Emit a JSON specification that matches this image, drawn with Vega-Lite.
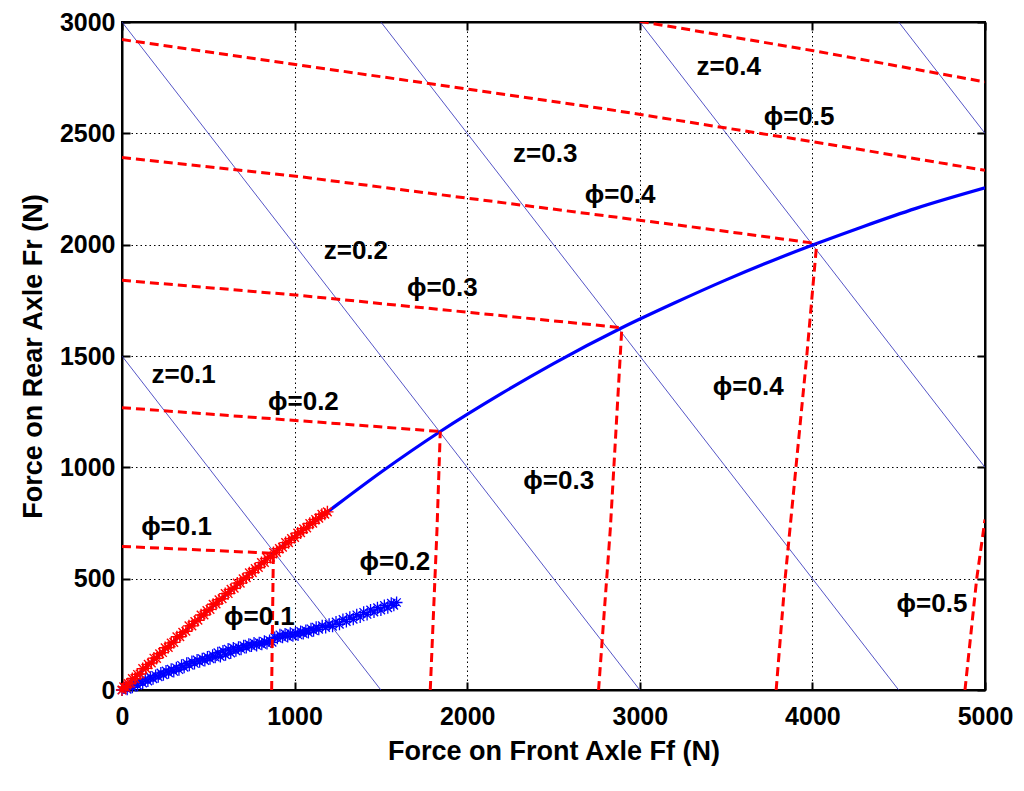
{
  "$schema": "https://vega.github.io/schema/vega-lite/v6.json",
  "autosize": {"type": "none"},
  "padding": {"left": 122, "top": 22, "right": 39, "bottom": 101},
  "width": 863,
  "height": 668,
  "background": "white",
  "datasets": {
    "lines": [
      {"s": "z1", "k": "z", "x": 0, "y": 1500}, {"s": "z1", "k": "z", "x": 1500, "y": 0},
      {"s": "z2", "k": "z", "x": 0, "y": 3000}, {"s": "z2", "k": "z", "x": 3000, "y": 0},
      {"s": "z3", "k": "z", "x": 1500, "y": 3000}, {"s": "z3", "k": "z", "x": 4500, "y": 0},
      {"s": "z4", "k": "z", "x": 3000, "y": 3000}, {"s": "z4", "k": "z", "x": 5000, "y": 1000},
      {"s": "z5", "k": "z", "x": 4500, "y": 3000}, {"s": "z5", "k": "z", "x": 5000, "y": 2500},
      {"s": "I", "k": "I", "x": 0, "y": 0}, {"s": "I", "k": "I", "x": 300, "y": 218},
      {"s": "I", "k": "I", "x": 600, "y": 425}, {"s": "I", "k": "I", "x": 877, "y": 614},
      {"s": "I", "k": "I", "x": 1200, "y": 805}, {"s": "I", "k": "I", "x": 1500, "y": 978},
      {"s": "I", "k": "I", "x": 1844, "y": 1161}, {"s": "I", "k": "I", "x": 2200, "y": 1332},
      {"s": "I", "k": "I", "x": 2500, "y": 1466}, {"s": "I", "k": "I", "x": 2896, "y": 1627},
      {"s": "I", "k": "I", "x": 3200, "y": 1738}, {"s": "I", "k": "I", "x": 3500, "y": 1842},
      {"s": "I", "k": "I", "x": 3800, "y": 1938}, {"s": "I", "k": "I", "x": 4025, "y": 2005},
      {"s": "I", "k": "I", "x": 4300, "y": 2083}, {"s": "I", "k": "I", "x": 4600, "y": 2163},
      {"s": "I", "k": "I", "x": 5000, "y": 2255},
      {"s": "r1", "k": "d", "x": 0, "y": 645}, {"s": "r1", "k": "d", "x": 877, "y": 614},
      {"s": "r2", "k": "d", "x": 0, "y": 1268}, {"s": "r2", "k": "d", "x": 1033, "y": 1209}, {"s": "r2", "k": "d", "x": 1844, "y": 1161},
      {"s": "r3", "k": "d", "x": 0, "y": 1840}, {"s": "r3", "k": "d", "x": 1033, "y": 1772}, {"s": "r3", "k": "d", "x": 2896, "y": 1627},
      {"s": "r4", "k": "d", "x": 0, "y": 2391}, {"s": "r4", "k": "d", "x": 1033, "y": 2305}, {"s": "r4", "k": "d", "x": 3350, "y": 2075}, {"s": "r4", "k": "d", "x": 4025, "y": 2005},
      {"s": "r5", "k": "d", "x": 0, "y": 2921}, {"s": "r5", "k": "d", "x": 2771, "y": 2613}, {"s": "r5", "k": "d", "x": 4006, "y": 2462}, {"s": "r5", "k": "d", "x": 5000, "y": 2334},
      {"s": "r6", "k": "d", "x": 3000, "y": 3003}, {"s": "r6", "k": "d", "x": 4006, "y": 2871}, {"s": "r6", "k": "d", "x": 5000, "y": 2731},
      {"s": "f1", "k": "d", "x": 867, "y": 0}, {"s": "f1", "k": "d", "x": 877, "y": 614},
      {"s": "f2", "k": "d", "x": 1786, "y": 0}, {"s": "f2", "k": "d", "x": 1825, "y": 721}, {"s": "f2", "k": "d", "x": 1844, "y": 1161},
      {"s": "f3", "k": "d", "x": 2761, "y": 0}, {"s": "f3", "k": "d", "x": 2829, "y": 721}, {"s": "f3", "k": "d", "x": 2896, "y": 1627},
      {"s": "f4", "k": "d", "x": 3790, "y": 0}, {"s": "f4", "k": "d", "x": 3842, "y": 500}, {"s": "f4", "k": "d", "x": 3967, "y": 1497}, {"s": "f4", "k": "d", "x": 4025, "y": 2005},
      {"s": "f5", "k": "d", "x": 4884, "y": 0}, {"s": "f5", "k": "d", "x": 4952, "y": 500}, {"s": "f5", "k": "d", "x": 5000, "y": 766}
    ],
    "blue": [
      {"x": 0, "y": 0}, {"x": 15, "y": 10}, {"x": 30, "y": 3}, {"x": 45, "y": 20}, {"x": 60, "y": 12},
      {"x": 75, "y": 29}, {"x": 90, "y": 21}, {"x": 105, "y": 39}, {"x": 120, "y": 31}, {"x": 135, "y": 48},
      {"x": 150, "y": 40}, {"x": 165, "y": 58}, {"x": 180, "y": 50}, {"x": 195, "y": 66}, {"x": 210, "y": 59},
      {"x": 225, "y": 77}, {"x": 240, "y": 68}, {"x": 255, "y": 86}, {"x": 270, "y": 77}, {"x": 285, "y": 94},
      {"x": 300, "y": 83}, {"x": 315, "y": 100}, {"x": 330, "y": 91}, {"x": 345, "y": 111}, {"x": 360, "y": 102},
      {"x": 375, "y": 120}, {"x": 390, "y": 111}, {"x": 405, "y": 128}, {"x": 420, "y": 119}, {"x": 435, "y": 135},
      {"x": 450, "y": 126}, {"x": 465, "y": 141}, {"x": 480, "y": 132}, {"x": 495, "y": 149}, {"x": 510, "y": 140},
      {"x": 525, "y": 157}, {"x": 540, "y": 147}, {"x": 555, "y": 168}, {"x": 570, "y": 150}, {"x": 585, "y": 176},
      {"x": 600, "y": 158}, {"x": 615, "y": 184}, {"x": 630, "y": 166}, {"x": 645, "y": 189}, {"x": 660, "y": 176},
      {"x": 675, "y": 192}, {"x": 690, "y": 183}, {"x": 705, "y": 199}, {"x": 720, "y": 190}, {"x": 735, "y": 206},
      {"x": 750, "y": 197}, {"x": 765, "y": 211}, {"x": 780, "y": 200}, {"x": 795, "y": 213}, {"x": 810, "y": 205},
      {"x": 825, "y": 219}, {"x": 840, "y": 209}, {"x": 855, "y": 223}, {"x": 870, "y": 214}, {"x": 885, "y": 236},
      {"x": 900, "y": 232}, {"x": 915, "y": 248}, {"x": 930, "y": 236}, {"x": 945, "y": 252}, {"x": 960, "y": 240},
      {"x": 975, "y": 255}, {"x": 990, "y": 243}, {"x": 1005, "y": 258}, {"x": 1020, "y": 247}, {"x": 1035, "y": 263},
      {"x": 1050, "y": 253}, {"x": 1065, "y": 268}, {"x": 1080, "y": 258}, {"x": 1095, "y": 275}, {"x": 1110, "y": 266},
      {"x": 1125, "y": 282}, {"x": 1140, "y": 272}, {"x": 1160, "y": 289}, {"x": 1180, "y": 280}, {"x": 1200, "y": 296},
      {"x": 1220, "y": 286}, {"x": 1240, "y": 306}, {"x": 1260, "y": 295}, {"x": 1280, "y": 317}, {"x": 1300, "y": 307},
      {"x": 1320, "y": 327}, {"x": 1340, "y": 317}, {"x": 1360, "y": 338}, {"x": 1380, "y": 328}, {"x": 1400, "y": 349},
      {"x": 1420, "y": 339}, {"x": 1440, "y": 360}, {"x": 1460, "y": 350}, {"x": 1480, "y": 370}, {"x": 1500, "y": 359},
      {"x": 1520, "y": 380}, {"x": 1540, "y": 369}, {"x": 1560, "y": 390}, {"x": 1575, "y": 380}, {"x": 1591, "y": 393}
    ],
    "red": [
      {"x": 0, "y": 0}, {"x": 10, "y": 14}, {"x": 22, "y": 11}, {"x": 35, "y": 29}, {"x": 48, "y": 30},
      {"x": 60, "y": 51}, {"x": 75, "y": 51}, {"x": 90, "y": 70}, {"x": 105, "y": 72}, {"x": 120, "y": 96},
      {"x": 138, "y": 97}, {"x": 152, "y": 115}, {"x": 170, "y": 121}, {"x": 185, "y": 143}, {"x": 200, "y": 142},
      {"x": 218, "y": 163}, {"x": 235, "y": 168}, {"x": 250, "y": 190}, {"x": 268, "y": 191}, {"x": 285, "y": 211},
      {"x": 300, "y": 214}, {"x": 318, "y": 239}, {"x": 335, "y": 239}, {"x": 352, "y": 259}, {"x": 370, "y": 264},
      {"x": 388, "y": 288}, {"x": 405, "y": 288}, {"x": 422, "y": 308}, {"x": 440, "y": 313}, {"x": 458, "y": 337},
      {"x": 475, "y": 337}, {"x": 492, "y": 357}, {"x": 510, "y": 362}, {"x": 528, "y": 385}, {"x": 545, "y": 386},
      {"x": 562, "y": 405}, {"x": 580, "y": 410}, {"x": 598, "y": 433}, {"x": 615, "y": 433}, {"x": 632, "y": 452},
      {"x": 650, "y": 457}, {"x": 668, "y": 480}, {"x": 685, "y": 480}, {"x": 702, "y": 499}, {"x": 720, "y": 504},
      {"x": 738, "y": 526}, {"x": 755, "y": 527}, {"x": 772, "y": 545}, {"x": 790, "y": 550}, {"x": 808, "y": 572},
      {"x": 825, "y": 573}, {"x": 842, "y": 591}, {"x": 860, "y": 596}, {"x": 878, "y": 617}, {"x": 895, "y": 618},
      {"x": 912, "y": 635}, {"x": 930, "y": 641}, {"x": 948, "y": 662}, {"x": 965, "y": 662}, {"x": 982, "y": 680},
      {"x": 1000, "y": 685}, {"x": 1018, "y": 705}, {"x": 1035, "y": 706}, {"x": 1052, "y": 724}, {"x": 1070, "y": 728},
      {"x": 1088, "y": 748}, {"x": 1105, "y": 749}, {"x": 1122, "y": 766}, {"x": 1140, "y": 771}, {"x": 1158, "y": 789},
      {"x": 1175, "y": 790}, {"x": 1190, "y": 800}
    ],
    "labels": [
      {"x": 357, "y": 1414, "t": "z=0.1"},
      {"x": 1355, "y": 1971, "t": "z=0.2"},
      {"x": 2452, "y": 2408, "t": "z=0.3"},
      {"x": 3515, "y": 2797, "t": "z=0.4"},
      {"x": 316, "y": 730, "t": "ϕ=0.1"},
      {"x": 1051, "y": 1293, "t": "ϕ=0.2"},
      {"x": 1856, "y": 1806, "t": "ϕ=0.3"},
      {"x": 2886, "y": 2221, "t": "ϕ=0.4"},
      {"x": 3923, "y": 2572, "t": "ϕ=0.5"},
      {"x": 796, "y": 329, "t": "ϕ=0.1"},
      {"x": 1581, "y": 577, "t": "ϕ=0.2"},
      {"x": 2530, "y": 937, "t": "ϕ=0.3"},
      {"x": 3628, "y": 1360, "t": "ϕ=0.4"},
      {"x": 4693, "y": 387, "t": "ϕ=0.5"}
    ]
  },
  "resolve": {"axis": {"x": "independent", "y": "independent"}},
  "layer": [
    {
      "data": {"name": "lines"},
      "transform": [{"filter": "datum.k == 'z'"}],
      "mark": {"type": "line", "color": "#2a2ab8", "strokeWidth": 0.8, "clip": true},
      "encoding": {
        "x": {
          "field": "x", "type": "quantitative",
          "scale": {"domain": [0, 5000], "nice": false},
          "axis": {
            "values": [0, 1000, 2000, 3000, 4000, 5000],
            "format": "d",
            "grid": true,
            "labelPadding": 22,
            "title": "Force on Front Axle Ff (N)",
            "titlePadding": 9
          }
        },
        "y": {
          "field": "y", "type": "quantitative",
          "scale": {"domain": [0, 3000], "nice": false},
          "axis": {
            "values": [0, 500, 1000, 1500, 2000, 2500, 3000],
            "format": "d",
            "grid": true,
            "labelPadding": 15,
            "title": "Force on Rear Axle Fr (N)",
            "titlePadding": 12
          }
        },
        "detail": {"field": "s"}
      }
    },
    {
      "data": {"name": "lines"},
      "transform": [{"filter": "datum.k == 'I'"}],
      "mark": {"type": "line", "color": "#0000ff", "strokeWidth": 3.2, "clip": true, "interpolate": "monotone"},
      "encoding": {
        "x": {
          "field": "x", "type": "quantitative",
          "axis": {"orient": "top", "values": [0, 1000, 2000, 3000, 4000, 5000], "labels": false, "grid": false, "title": null}
        },
        "y": {
          "field": "y", "type": "quantitative",
          "axis": {"orient": "right", "values": [0, 500, 1000, 1500, 2000, 2500, 3000], "labels": false, "grid": false, "title": null}
        }
      }
    },
    {
      "data": {"name": "blue"},
      "mark": {
        "type": "point",
        "shape": "M-1,0H1M0,-1V1M-0.7,-0.7L0.7,0.7M-0.7,0.7L0.7,-0.7",
        "filled": false,
        "color": "#0000ff",
        "strokeWidth": 1.3,
        "size": 140,
        "opacity": 1
      },
      "encoding": {
        "x": {"field": "x", "type": "quantitative", "axis": null},
        "y": {"field": "y", "type": "quantitative", "axis": null}
      }
    },
    {
      "data": {"name": "red"},
      "mark": {
        "type": "point",
        "shape": "M-1,0H1M0,-1V1M-0.7,-0.7L0.7,0.7M-0.7,0.7L0.7,-0.7",
        "filled": false,
        "color": "#ff0000",
        "strokeWidth": 1.4,
        "size": 150,
        "opacity": 1
      },
      "encoding": {
        "x": {"field": "x", "type": "quantitative", "axis": null},
        "y": {"field": "y", "type": "quantitative", "axis": null}
      }
    },
    {
      "data": {"name": "lines"},
      "transform": [{"filter": "datum.k == 'd'"}],
      "mark": {"type": "line", "color": "#ff0000", "strokeWidth": 3, "strokeDash": [9, 5], "clip": true},
      "encoding": {
        "x": {"field": "x", "type": "quantitative", "axis": null},
        "y": {"field": "y", "type": "quantitative", "axis": null},
        "detail": {"field": "s"}
      }
    },
    {
      "data": {"name": "labels"},
      "mark": {
        "type": "text",
        "font": "Liberation Sans",
        "fontWeight": "bold",
        "fontSize": 26,
        "color": "black",
        "align": "center",
        "baseline": "middle"
      },
      "encoding": {
        "x": {"field": "x", "type": "quantitative", "axis": null},
        "y": {"field": "y", "type": "quantitative", "axis": null},
        "text": {"field": "t"}
      }
    }
  ],
  "config": {
    "view": {"stroke": "black", "strokeWidth": 2},
    "axis": {
      "domainColor": "black",
      "domainWidth": 2,
      "tickColor": "black",
      "tickWidth": 2,
      "tickSize": -8,
      "labelFont": "Liberation Sans",
      "labelFontWeight": "bold",
      "labelFontSize": 25,
      "labelColor": "black",
      "labelFlush": false,
      "labelOverlap": false,
      "titleFont": "Liberation Sans",
      "titleFontWeight": "bold",
      "titleFontSize": 27,
      "titleColor": "black",
      "gridColor": "black",
      "gridDash": [1.5, 3],
      "gridWidth": 1,
      "gridOpacity": 1
    }
  }
}
